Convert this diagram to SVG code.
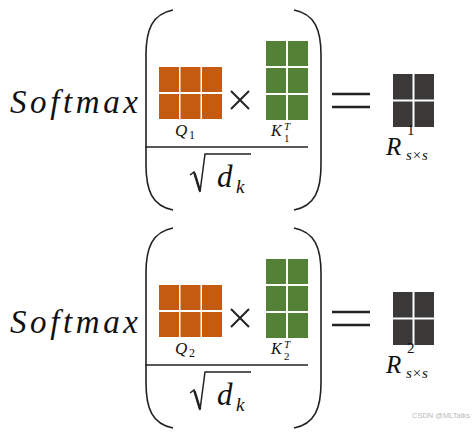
<svg xmlns="http://www.w3.org/2000/svg" width="474" height="438" viewBox="0 0 474 438">
<style>
.ln{stroke:#222;fill:none}
.q{fill:#C55A11}
.k{fill:#538135}
.r{fill:#3B3838}
.t{font-family:'Liberation Serif',serif;fill:#111}
.i{font-style:italic}
</style>
<defs>
<g id="block">
  <path class="ln" stroke-width="1.6" d="M173,10 C152,14 146,30 146,55 L146,165 C146,190 152,206 173,210"/>
  <path class="ln" stroke-width="1.6" d="M294,10 C315,14 321,30 321,55 L321,165 C321,190 315,206 294,210"/>
  <g class="q">
    <rect x="159" y="67" width="20" height="25"/><rect x="180.5" y="67" width="20" height="25"/><rect x="202" y="67" width="20" height="25"/>
    <rect x="159" y="94" width="20" height="25"/><rect x="180.5" y="94" width="20" height="25"/><rect x="202" y="94" width="20" height="25"/>
  </g>
  <path class="ln" stroke-width="2" d="M231,91 L249,109 M231,109 L249,91"/>
  <g class="k">
    <rect x="266" y="41" width="20" height="25"/><rect x="288" y="41" width="20" height="25"/>
    <rect x="266" y="68" width="20" height="25"/><rect x="288" y="68" width="20" height="25"/>
    <rect x="266" y="95" width="20" height="25"/><rect x="288" y="95" width="20" height="25"/>
  </g>
  <line class="ln" stroke-width="1.3" x1="145" y1="147" x2="308" y2="147"/>
  <path class="ln" stroke-width="1.5" d="M190,175 L194,172 L200,192 L205,154 L251,154"/>
  <path class="ln" stroke-width="2.5" d="M194.5,173 L200,191"/>
  <path class="ln" stroke-width="2.4" d="M332,94 H370 M332,107 H370"/>
  <g class="r">
    <rect x="393" y="74" width="19.5" height="25.5"/><rect x="414.5" y="74" width="19.5" height="25.5"/>
    <rect x="393" y="101.5" width="19.5" height="25.5"/><rect x="414.5" y="101.5" width="19.5" height="25.5"/>
  </g>
</g>
</defs>
<g id="formula1" class="t">
  <use href="#block"/>
  <text class="i" font-size="33" x="10" y="113" textLength="128" lengthAdjust="spacing">Softmax</text>
  <text class="i" font-size="17" x="175" y="136">Q</text>
  <text font-size="12" x="189" y="139">1</text>
  <text class="i" font-size="16" x="271" y="136">K</text>
  <text class="i" font-size="11" x="284" y="130">T</text>
  <text font-size="11" x="284" y="142">1</text>
  <text class="i" font-size="31" x="217" y="187">d</text>
  <text class="i" font-size="19" x="236" y="193">k</text>
  <text class="i" font-size="25" x="386" y="155">R</text>
  <text font-size="15" x="407" y="135">1</text>
  <text class="i" font-size="15" x="406" y="160">s&#215;s</text>
</g>
<g id="formula2" class="t" transform="translate(0,218)">
  <use href="#block"/>
  <text class="i" font-size="33" x="10" y="115" textLength="128" lengthAdjust="spacing">Softmax</text>
  <text class="i" font-size="17" x="175" y="136">Q</text>
  <text font-size="12" x="189" y="139">2</text>
  <text class="i" font-size="16" x="271" y="136">K</text>
  <text class="i" font-size="11" x="284" y="130">T</text>
  <text font-size="11" x="284" y="142">2</text>
  <text class="i" font-size="31" x="217" y="187">d</text>
  <text class="i" font-size="19" x="236" y="193">k</text>
  <text class="i" font-size="25" x="386" y="155">R</text>
  <text font-size="15" x="407" y="135">2</text>
  <text class="i" font-size="15" x="406" y="160">s&#215;s</text>
</g>
<text font-family="Liberation Sans, sans-serif" font-size="7.5" x="412" y="418" fill="#b8b8b8">CSDN @MLTalks</text>
</svg>
